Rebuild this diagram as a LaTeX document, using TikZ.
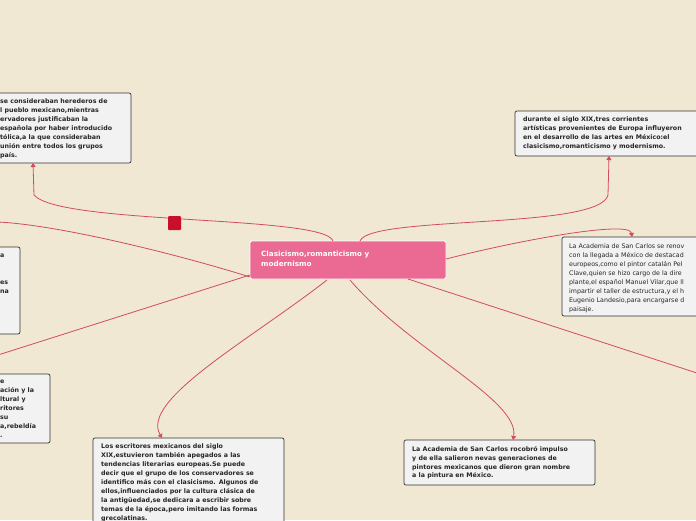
\documentclass[tikz,border=0pt]{standalone}
\usepackage{fontspec}
\setmainfont{DejaVu Sans}
\usetikzlibrary{arrows.meta}
\definecolor{bg}{HTML}{F0E8D2}
\definecolor{ln}{HTML}{D24B62}
\definecolor{sq}{HTML}{C8102E}
\definecolor{mid}{HTML}{EB6A93}
\definecolor{bx}{HTML}{F2F2F2}
\tikzset{
 box/.style={draw=black!80,fill=bx,rounded corners=2pt,line width=0.7pt},
 txt/.style={anchor=north west,align=left,font=\fontsize{6.3}{8.9}\selectfont\bfseries,inner sep=0pt,text=black!85},
 rtxt/.style={anchor=north west,align=left,font=\fontsize{6.3}{8.9}\selectfont,inner sep=0pt,text=black!85},
 con/.style={draw=ln,line width=0.8pt,-{Triangle[length=4pt,width=5pt]}},
 conn/.style={draw=ln,line width=0.8pt},
}
\begin{document}
\begin{tikzpicture}[x=1pt,y=-1pt]
\useasboundingbox (0,0) rectangle (696,520);
\fill[bg] (0,0) rectangle (696,520);
\clip (0,0) rectangle (696,520);
% boxes
\draw[box] (-20,93) rectangle (131,163);
\node[txt] (t1) at (0,99) {se consideraban herederos de\\l pueblo mexicano,mientras\\ervadores justificaban la\\española por haber introducido\\tólica,a la que consideraban\\ unión entre todos los grupos\\país.};
\draw[box] (-20,247) rectangle (20,334);
\node[txt] (t2) at (0,254) {a\\\\\\es\\na};
\draw[box] (-20,374) rectangle (50,443);
\node[txt] (t3) at (0,380) {e\\ación y la\\ltural y\\ritores\\su\\a,rebeldía\\.};
\draw[box] (515,111) rectangle (720,156);
\node[txt] (t4) at (523,117) {durante el siglo XIX,tres corrientes\\artísticas provenientes de Europa influyeron\\en el desarrollo de las artes en México:el\\clasicismo,romanticismo y modernismo.};
\draw[box] (562,237) rectangle (720,316);
\node[rtxt] (t5) at (569,244) {La Academia de San Carlos se renov\\con la llegada a México de destacad\\europeos,como el pintor catalán Pel\\Clave,quien se hizo cargo de la dire\\plante,el español Manuel Vilar,que ll\\impartir el taller de estructura,y el h\\Eugenio Landesio,para encargarse d\\paisaje.};
\draw[box] (93,438) rectangle (284,530);
\node[txt] (t6) at (101,444) {Los escritores mexicanos del siglo\\XIX,estuvieron también apegados a las\\tendencias literarias europeas.Se puede\\decir que el grupo de los conservadores se\\identifico más con el clasicismo. Algunos de\\ellos,influenciados por la cultura clásica de\\la antigüedad,se dedicara a escribir sobre\\temas de la época,pero imitando las formas\\grecolatinas.};
\draw[box] (404,440) rectangle (595,485);
\node[txt] (t7) at (412,446) {La Academia de San Carlos rocobró impulso\\y de ella salieron nevas generaciones de\\pintores mexicanos que dieron gran nombre\\a la pintura en México.};
% center
\draw[fill=mid,draw=white,line width=0.8pt,rounded corners=2pt] (250,241) rectangle (446,279);
\node[anchor=north west,align=left,text=white,font=\fontsize{7.2}{10}\selectfont\bfseries,inner sep=0pt] (c) at (261,251) {Clasicismo,romanticismo y\\modernismo};
\coordinate (a1) at (333,241); \coordinate (b1) at (33,163);
\coordinate (a2) at (360,241); \coordinate (b2) at (609,156);
\coordinate (a3) at (446,259); \coordinate (b3) at (632,237);
\coordinate (a4) at (408,279); \coordinate (b4) at (700,374);
\coordinate (a5) at (250,275); \coordinate (b5) at (-2,355);
\coordinate (a6) at (250,277); \coordinate (b6) at (-2,222);
\coordinate (a7) at (327,280); \coordinate (b7) at (162,438);
\coordinate (a8) at (350,280); \coordinate (b8) at (513,440);
\draw[con] (a1) .. controls (325,215) and (60,225) .. (34,195) -- (b1);
\draw[con] (a2) .. controls (370,215) and (600,230) .. (608,195) -- (b2);
\draw[con] (a3) .. controls (520,240) and (630,220) .. (b3);
\draw[conn] (a4) -- (b4);
\draw[conn] (a5) -- (b5);
\draw[conn] (a6) .. controls (180,255) and (60,225) .. (b6);
\draw[con] (a7) .. controls (250,340) and (140,400) .. (b7);
\draw[con] (a8) .. controls (410,350) and (520,400) .. (b8);
\fill[sq,rounded corners=1pt] (168,216) rectangle (181,230);
\end{tikzpicture}
\end{document}
